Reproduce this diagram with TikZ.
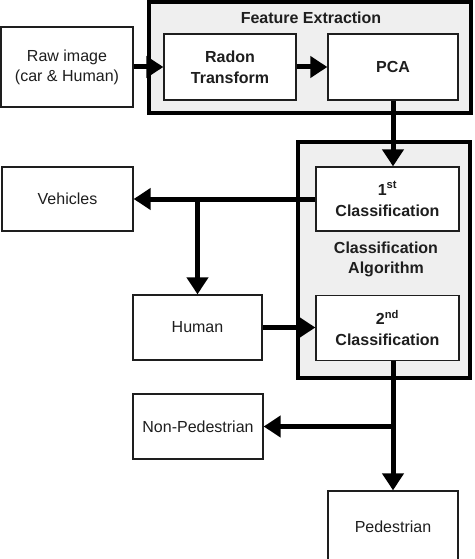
\documentclass[tikz,border=0pt]{standalone}
\usepackage{fontspec}
\setmainfont{Liberation Sans}
\usetikzlibrary{arrows.meta}
\definecolor{panel}{HTML}{EFEFEF}
\definecolor{ink}{HTML}{1E1E1E}
\begin{document}
\begin{tikzpicture}[x=1pt,y=-1pt,
  box/.style={draw=ink, line width=1.3pt, fill=white, inner sep=0pt, align=center,
    text=ink, font=\fontsize{16}{20}\selectfont},
  bbox/.style={box, font=\fontsize{16}{21}\selectfont\bfseries},
  panelbox/.style={draw=black, line width=4pt, fill=panel},
  conn/.style={line width=5pt, draw=black, -{Triangle[length=17pt,width=21pt]}},
  title/.style={font=\fontsize{16}{20}\selectfont\bfseries, text=ink, align=center}]
\useasboundingbox (0,0) rectangle (474,559);
\begin{scope}
\clip (0,0) rectangle (474,559);
% panels
\draw[panelbox] (149,2) rectangle (471,113);
\draw[panelbox] (298,142) rectangle (470,378);
\node[title] (fe) at (311,18) {Feature Extraction};
\node[title] (ca) at (386,259) {Classification\\Algorithm};
% boxes
\node[box, minimum width=132pt, minimum height=80pt] (raw) at (67,67) {Raw image\\(car \& Human)};
\node[bbox, minimum width=132pt, minimum height=66pt] (radon) at (230,67) {Radon\\Transform};
\node[bbox, minimum width=130pt, minimum height=66pt] (pca) at (393,67) {PCA};
\node[bbox, minimum width=143pt, minimum height=64pt] (c1) at (387.5,199) {1\textsuperscript{st}\\Classification};
\node[bbox, minimum width=143pt, minimum height=65pt] (c2) at (387.5,328) {2\textsuperscript{nd}\\Classification};
\node[box, minimum width=131pt, minimum height=64pt] (veh) at (67.5,199) {Vehicles};
\node[box, minimum width=129pt, minimum height=65pt] (hum) at (197.5,327.5) {Human};
\node[box, minimum width=130pt, minimum height=65pt] (np) at (198,426.5) {Non-Pedestrian};
\node[box, minimum width=130pt, minimum height=80pt] (ped) at (393,531) {\raisebox{8pt}{Pedestrian}};
% connectors
\draw[conn] (raw.east) -- (radon.west);
\draw[conn] (radon.east) -- (pca.west);
\draw[conn] (pca.south) -- (pca.south |- c1.north);
\draw[conn] (c1.west) -- (veh.east);
\coordinate (j1) at (hum.north |- c1.west);
\draw[conn] (j1) -- (hum.north);
\draw[conn] (hum.east) -- (hum.east -| c2.west);
\coordinate (j2) at (ped.north |- c2.south);
\draw[conn] (j2) -- (ped.north);
\coordinate (j3) at (ped.north |- np.east);
\draw[conn] (j3) -- (np.east);
\end{scope}
\end{tikzpicture}
\end{document}
